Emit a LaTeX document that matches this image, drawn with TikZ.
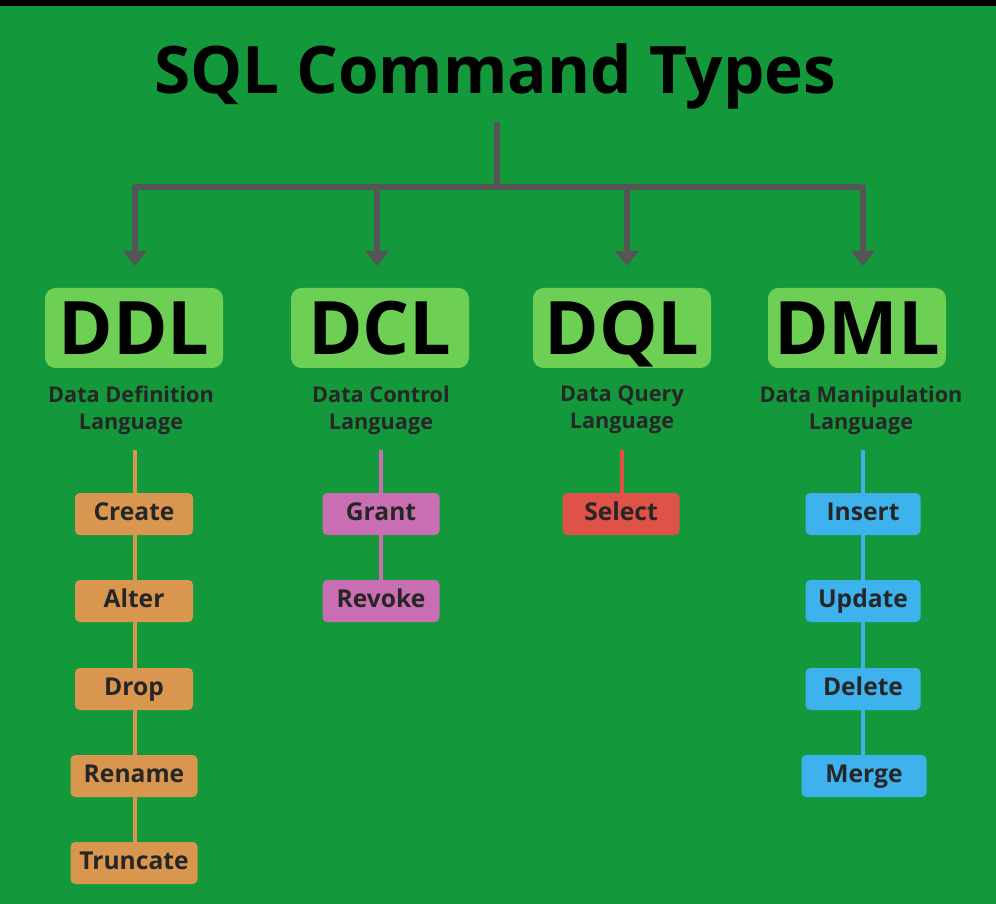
\documentclass[tikz,border=0pt]{standalone}
\usepackage{fontspec}
\setmainfont{Open Sans}
\usetikzlibrary{arrows.meta,positioning}
\definecolor{field}{HTML}{13993B}
\definecolor{headbox}{HTML}{6ECF55}
\definecolor{wire}{HTML}{555555}
\definecolor{ddlc}{HTML}{D9964F}
\definecolor{dclc}{HTML}{C96EB2}
\definecolor{dqlc}{HTML}{DE5247}
\definecolor{dmlc}{HTML}{3DB2EC}
\newlength{\pxu}\setlength{\pxu}{0.03cm}
\tikzset{
  head/.style={fill=headbox,rounded corners=9pt,minimum width=178\pxu,minimum height=80\pxu,font=\fontsize{63}{63}\selectfont\bfseries,inner sep=0pt,text height=46pt,text depth=0pt},
  sub/.style={font=\fontsize{18.5}{23}\selectfont\bfseries,align=center,text=black!85},
  cmd/.style={rounded corners=4pt,minimum height=42\pxu,inner sep=0pt,font=\fontsize{21}{21}\selectfont\bfseries,text=black!85,text height=15pt,text depth=4pt},
  feed/.style={wire,line width=4.5pt,-{Triangle[width=20pt,length=13pt]}},
  stalk/.style={line width=3.5pt}
}
\begin{document}
\begin{tikzpicture}[x=0.03cm,y=-0.03cm]
\fill[field] (0,0) rectangle (996,904);
\fill[black] (0,0) rectangle (996,6);
% title
\node (title) at (495,76) {\fontsize{56}{56}\selectfont\bfseries SQL Command Types};
\coordinate (top) at (497,122);
\coordinate (fork) at (497,187);
% heads
\node[head] (ddl) at (134,328) {DDL};
\node[head] (dcl) at (380,328) {DCL};
\node[head] (dql) at (622,328) {DQL};
\node[head] (dml) at (857,328) {DML};
\draw[wire,line width=4.5pt] (top) -- (fork);
\draw[wire,line width=4.5pt] (135,187) -- (863,187);
\foreach \x/\h in {135/ddl,377/dcl,627/dql,863/dml}
  \draw[feed] (\x,185) -- (\x,266);
% subtitles
\node[sub] (ddlsub) at (131,410) {Data Definition\\Language};
\node[sub] (dclsub) at (381,410) {Data Control\\Language};
\node[sub] (dqlsub) at (622,410) {Data Query\\Language};
\node[sub] (dmlsub) at (861,410) {Data Manipulation\\Language};
% DDL column
\draw[ddlc,stalk] (135,450) -- (135,850);
\node[cmd,fill=ddlc,minimum width=118\pxu] (create) at (134,514) {Create};
\node[cmd,fill=ddlc,minimum width=118\pxu] (alter) at (134,601) {Alter};
\node[cmd,fill=ddlc,minimum width=118\pxu] (drop) at (134,689) {Drop};
\node[cmd,fill=ddlc,minimum width=127\pxu] (rename) at (134,776) {Rename};
\node[cmd,fill=ddlc,minimum width=127\pxu] (truncate) at (134,863) {Truncate};
% DCL column
\draw[dclc,stalk] (381,450) -- (381,590);
\node[cmd,fill=dclc,minimum width=117\pxu] (grant) at (381,514) {Grant};
\node[cmd,fill=dclc,minimum width=117\pxu] (revoke) at (381,601) {Revoke};
% DQL column
\draw[dqlc,stalk] (622,450) -- (622,500);
\node[cmd,fill=dqlc,minimum width=117\pxu] (select) at (621,514) {Select};
% DML column
\draw[dmlc,stalk] (863,450) -- (863,770);
\node[cmd,fill=dmlc,minimum width=115\pxu] (insert) at (863,514) {Insert};
\node[cmd,fill=dmlc,minimum width=115\pxu] (update) at (863,601) {Update};
\node[cmd,fill=dmlc,minimum width=115\pxu] (delete) at (863,689) {Delete};
\node[cmd,fill=dmlc,minimum width=125\pxu] (merge) at (864,776) {Merge};
\end{tikzpicture}
\end{document}
